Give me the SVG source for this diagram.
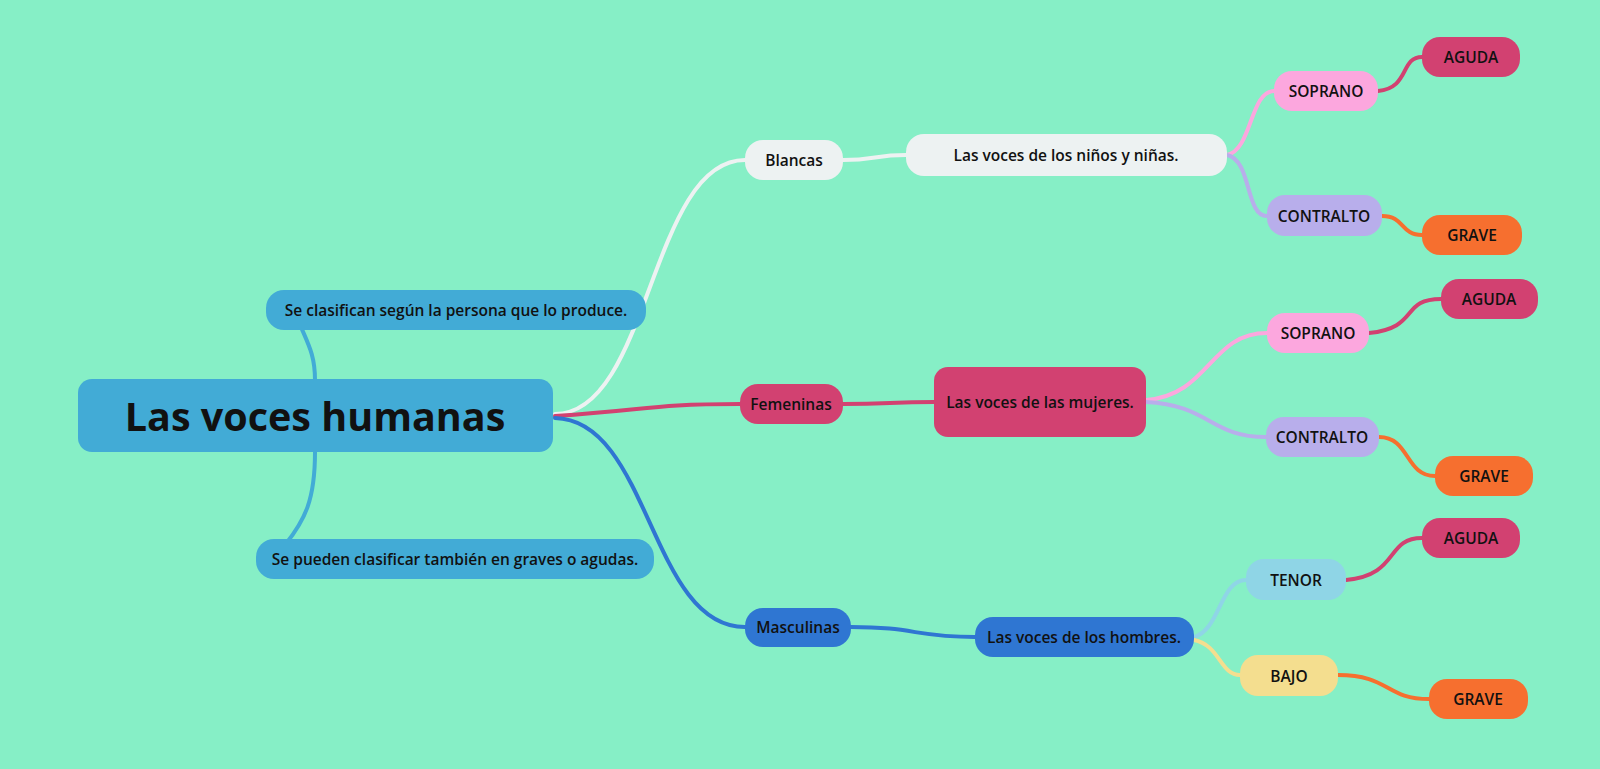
<svg xmlns="http://www.w3.org/2000/svg" width="1600" height="769" viewBox="0 0 1600 769">
<style>
text{font-family:"Open Sans","Noto Sans",sans-serif;font-size:15.5px;fill:#111;text-anchor:middle;dominant-baseline:central}
.c{fill:none;stroke-width:4;stroke-linecap:round}
.b{font-weight:600}
</style>
<rect width="1600" height="769" fill="#86efc6"/>
<g id="connectors">
<path class="c" stroke="#42abd6" d="M315,380 C315,350 305,340 295,312"/>
<path class="c" stroke="#42abd6" d="M315,452 C315,500 305,520 285,545"/>
<path class="c" stroke="#edf2f2" stroke-width="5" d="M555,414 C650,414 650,160 745,160"/>
<path class="c" stroke="#d24171" stroke-width="5" d="M555,416 C650,410 650,404 740,404"/>
<path class="c" stroke="#2f76d2" stroke-width="5" d="M555,418 C650,420 650,627 745,627"/>
<path class="c" stroke="#edf2f2" d="M843,160 C875,160 875,155 906,155"/>
<path class="c" stroke="#d24171" d="M843,404 C890,404 890,402 934,402"/>
<path class="c" stroke="#2f76d2" d="M851,627 C915,627 915,637 975,637"/>
<path class="c" stroke="#fca7de" d="M1227,155 C1252,150 1250,91 1274,91"/>
<path class="c" stroke="#b8aeeb" d="M1227,155 C1252,160 1245,216 1267,216"/>
<path class="c" stroke="#fca7de" d="M1146,400 C1210,395 1210,333 1267,333"/>
<path class="c" stroke="#b8aeeb" d="M1146,402 C1210,405 1210,437 1266,437"/>
<path class="c" stroke="#8fd5e6" d="M1194,637 C1220,630 1220,580 1246,580"/>
<path class="c" stroke="#f4de8f" d="M1194,640 C1220,645 1220,675 1240,675"/>
<path class="c" stroke="#d24171" stroke-width="6" d="M1378,91 C1410,88 1400,57 1422,57"/>
<path class="c" stroke="#f66f2f" d="M1382,216 C1405,216 1400,235 1422,235"/>
<path class="c" stroke="#d24171" stroke-width="6" d="M1369,333 C1420,328 1400,299 1441,299"/>
<path class="c" stroke="#f66f2f" d="M1379,437 C1410,437 1405,476 1435,476"/>
<path class="c" stroke="#d24171" stroke-width="6" d="M1346,580 C1400,575 1385,538 1422,538"/>
<path class="c" stroke="#f66f2f" stroke-width="5" d="M1338,675 C1390,675 1385,699 1429,699"/>
</g>
<g id="root"><rect x="78" y="379" width="475" height="73" rx="14" fill="#42abd6"/><text x="315" y="416" style="font-size:39.5px;font-weight:700">Las voces humanas</text></g>
<g id="note1"><rect x="266" y="290" width="380" height="40" rx="18" fill="#42abd6"/><text x="456" y="310" class="b">Se clasifican según la persona que lo produce.</text></g>
<g id="note2"><rect x="256" y="539" width="398" height="40" rx="18" fill="#42abd6"/><text x="455" y="559" class="b">Se pueden clasificar también en graves o agudas.</text></g>
<g id="blancas"><rect x="745" y="140" width="98" height="40" rx="18" fill="#edf2f2"/><text x="794" y="160" class="b">Blancas</text></g>
<g id="ninos"><rect x="906" y="134" width="321" height="42" rx="18" fill="#edf2f2"/><text x="1066" y="155" class="b">Las voces de los niños y niñas.</text></g>
<g id="femeninas"><rect x="740" y="384" width="103" height="40" rx="18" fill="#d24171"/><text x="791" y="404" class="b">Femeninas</text></g>
<g id="mujeres"><rect x="934" y="367" width="212" height="70" rx="14" fill="#d24171"/><text x="1040" y="402" class="b">Las voces de las mujeres.</text></g>
<g id="masculinas"><rect x="745" y="608" width="106" height="39" rx="18" fill="#2f76d2"/><text x="798" y="627" class="b">Masculinas</text></g>
<g id="hombres"><rect x="975" y="617" width="219" height="40" rx="18" fill="#2f76d2"/><text x="1084" y="637" class="b">Las voces de los hombres.</text></g>
<g id="soprano1"><rect x="1274" y="71" width="104" height="40" rx="18" fill="#fca7de"/><text x="1326" y="91" class="b">SOPRANO</text></g>
<g id="aguda1"><rect x="1422" y="37" width="98" height="40" rx="18" fill="#d24171"/><text x="1471" y="57" class="b">AGUDA</text></g>
<g id="contralto1"><rect x="1267" y="195" width="115" height="41" rx="18" fill="#b8aeeb"/><text x="1324" y="216" class="b">CONTRALTO</text></g>
<g id="grave1"><rect x="1422" y="215" width="100" height="40" rx="18" fill="#f66f2f"/><text x="1472" y="235" class="b">GRAVE</text></g>
<g id="soprano2"><rect x="1267" y="313" width="102" height="40" rx="18" fill="#fca7de"/><text x="1318" y="333" class="b">SOPRANO</text></g>
<g id="aguda2"><rect x="1441" y="279" width="97" height="40" rx="18" fill="#d24171"/><text x="1489" y="299" class="b">AGUDA</text></g>
<g id="contralto2"><rect x="1266" y="417" width="113" height="40" rx="18" fill="#b8aeeb"/><text x="1322" y="437" class="b">CONTRALTO</text></g>
<g id="grave2"><rect x="1435" y="456" width="98" height="40" rx="18" fill="#f66f2f"/><text x="1484" y="476" class="b">GRAVE</text></g>
<g id="tenor"><rect x="1246" y="559" width="100" height="41" rx="18" fill="#8fd5e6"/><text x="1296" y="580" class="b">TENOR</text></g>
<g id="aguda3"><rect x="1422" y="518" width="98" height="40" rx="18" fill="#d24171"/><text x="1471" y="538" class="b">AGUDA</text></g>
<g id="bajo"><rect x="1240" y="655" width="98" height="41" rx="18" fill="#f4de8f"/><text x="1289" y="676" class="b">BAJO</text></g>
<g id="grave3"><rect x="1429" y="679" width="99" height="40" rx="18" fill="#f66f2f"/><text x="1478" y="699" class="b">GRAVE</text></g>
</svg>
